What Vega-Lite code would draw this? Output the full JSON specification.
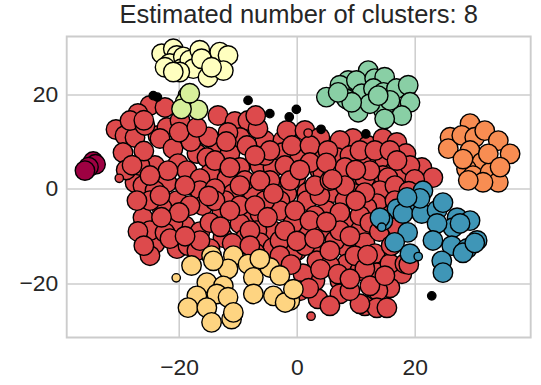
{
  "$schema": "https://vega.github.io/schema/vega-lite/v6.json",
  "width": 464,
  "height": 301,
  "autosize": {"type": "none"},
  "padding": {"left": 66.7, "top": 36.5, "right": 10.3, "bottom": 47.7},
  "background": "white",
  "title": {"text": "Estimated number of clusters: 8", "fontSize": 25.5, "fontWeight": "normal", "color": "#262626", "font": "Liberation Sans", "anchor": "middle", "frame": "group", "offset": 8},
  "config": {
    "view": {"stroke": "#cccccc", "strokeWidth": 1.9},
    "axis": {"domain": false, "ticks": false, "grid": true, "gridColor": "#cccccc", "gridWidth": 1.5, "gridOpacity": 1, "labelFontSize": 22.9, "labelColor": "#262626", "labelFont": "Liberation Sans", "title": null}
  },
  "data": {"values": [
    {"x": -34.6, "y": 5.78, "c": "0", "k": "core"},
    {"x": -34.2, "y": 5.2, "c": "0", "k": "core"},
    {"x": -35.4, "y": 4.6, "c": "0", "k": "core"},
    {"x": -36.0, "y": 3.87, "c": "0", "k": "core"},

    {"x": -24.96, "y": 17.63, "c": "1", "k": "core"},
    {"x": -27.0, "y": 15.94, "c": "1", "k": "core"},
    {"x": -22.41, "y": 17.21, "c": "1", "k": "core"},
    {"x": -30.73, "y": 12.55, "c": "1", "k": "core"},
    {"x": -29.2, "y": 11.28, "c": "1", "k": "core"},
    {"x": -27.5, "y": 10.86, "c": "1", "k": "core"},
    {"x": -23.6, "y": 11.28, "c": "1", "k": "core"},
    {"x": -22.07, "y": 12.97, "c": "1", "k": "core"},
    {"x": -19.86, "y": 14.44, "c": "1", "k": "core"},
    {"x": -23.26, "y": 10.65, "c": "1", "k": "core"},
    {"x": -13.41, "y": 15.51, "c": "1", "k": "core"},
    {"x": -10.53, "y": 14.24, "c": "1", "k": "core"},
    {"x": -8.32, "y": 14.44, "c": "1", "k": "core"},
    {"x": -9.68, "y": 10.86, "c": "1", "k": "core"},
    {"x": -5.43, "y": 10.22, "c": "1", "k": "core"},
    {"x": -2.38, "y": 10.22, "c": "1", "k": "core"},
    {"x": -1.7, "y": 12.34, "c": "1", "k": "core"},
    {"x": 1.36, "y": 12.34, "c": "1", "k": "core"},
    {"x": 3.9, "y": 10.86, "c": "1", "k": "core"},
    {"x": 6.96, "y": 8.74, "c": "1", "k": "core"},
    {"x": 9.51, "y": 10.65, "c": "1", "k": "core"},
    {"x": 12.05, "y": 9.16, "c": "1", "k": "core"},
    {"x": 14.6, "y": 10.65, "c": "1", "k": "core"},
    {"x": 16.98, "y": 9.8, "c": "1", "k": "core"},
    {"x": 7.3, "y": 10.22, "c": "1", "k": "core"},
    {"x": -29.54, "y": 7.68, "c": "1", "k": "core"},
    {"x": -24.11, "y": 4.93, "c": "1", "k": "core"},
    {"x": -21.05, "y": 8.53, "c": "1", "k": "core"},
    {"x": -20.2, "y": 5.35, "c": "1", "k": "core"},
    {"x": -16.98, "y": 7.47, "c": "1", "k": "core"},
    {"x": -13.41, "y": 8.74, "c": "1", "k": "core"},
    {"x": -11.38, "y": 7.47, "c": "1", "k": "core"},
    {"x": -15.28, "y": 6.62, "c": "1", "k": "core"},
    {"x": -8.49, "y": 9.16, "c": "1", "k": "core"},
    {"x": -9.68, "y": 4.51, "c": "1", "k": "core"},
    {"x": -6.28, "y": 4.93, "c": "1", "k": "core"},
    {"x": -4.07, "y": 4.51, "c": "1", "k": "core"},
    {"x": 2.72, "y": 7.68, "c": "1", "k": "core"},
    {"x": 6.79, "y": 6.62, "c": "1", "k": "core"},
    {"x": 11.88, "y": 5.99, "c": "1", "k": "core"},
    {"x": 14.09, "y": 6.41, "c": "1", "k": "core"},
    {"x": 18.51, "y": 7.47, "c": "1", "k": "core"},
    {"x": 14.94, "y": 5.99, "c": "1", "k": "core"},
    {"x": -0.17, "y": 2.39, "c": "1", "k": "core"},
    {"x": 3.9, "y": 3.87, "c": "1", "k": "core"},
    {"x": -2.38, "y": 7.68, "c": "1", "k": "core"},
    {"x": -5.43, "y": 7.05, "c": "1", "k": "core"},
    {"x": 0.51, "y": 7.05, "c": "1", "k": "core"},
    {"x": 9.0, "y": 7.05, "c": "1", "k": "core"},
    {"x": 16.64, "y": 3.87, "c": "1", "k": "core"},
    {"x": -27.5, "y": 1.33, "c": "1", "k": "core"},
    {"x": -26.15, "y": 0.7, "c": "1", "k": "core"},
    {"x": -22.07, "y": 1.33, "c": "1", "k": "core"},
    {"x": -18.68, "y": 3.87, "c": "1", "k": "core"},
    {"x": -16.98, "y": 0.28, "c": "1", "k": "core"},
    {"x": -14.77, "y": 3.24, "c": "1", "k": "core"},
    {"x": -11.88, "y": 2.18, "c": "1", "k": "core"},
    {"x": -16.47, "y": 2.18, "c": "1", "k": "core"},
    {"x": 4.41, "y": 3.45, "c": "1", "k": "core"},
    {"x": 9.51, "y": 2.39, "c": "1", "k": "core"},
    {"x": 13.75, "y": 1.33, "c": "1", "k": "core"},
    {"x": 20.37, "y": 1.33, "c": "1", "k": "core"},
    {"x": 21.22, "y": 4.51, "c": "1", "k": "core"},
    {"x": 23.09, "y": 2.39, "c": "1", "k": "core"},
    {"x": 14.6, "y": 2.82, "c": "1", "k": "core"},
    {"x": 11.54, "y": 2.18, "c": "1", "k": "core"},
    {"x": 6.11, "y": -0.78, "c": "1", "k": "core"},
    {"x": 1.7, "y": -0.78, "c": "1", "k": "core"},
    {"x": -2.89, "y": -0.36, "c": "1", "k": "core"},
    {"x": -7.47, "y": -0.78, "c": "1", "k": "core"},
    {"x": -10.87, "y": -0.99, "c": "1", "k": "core"},
    {"x": -16.47, "y": -0.36, "c": "1", "k": "core"},
    {"x": -20.37, "y": -2.48, "c": "1", "k": "core"},
    {"x": -1.7, "y": -0.99, "c": "1", "k": "core"},
    {"x": 18.0, "y": 3.45, "c": "1", "k": "core"},
    {"x": 15.45, "y": 2.39, "c": "1", "k": "core"},
    {"x": 14.09, "y": -0.36, "c": "1", "k": "core"},
    {"x": -4.58, "y": 1.76, "c": "1", "k": "core"},
    {"x": -8.83, "y": 1.76, "c": "1", "k": "core"},
    {"x": -24.11, "y": -0.36, "c": "1", "k": "core"},
    {"x": 13.58, "y": -3.11, "c": "1", "k": "core"},
    {"x": 1.7, "y": -2.48, "c": "1", "k": "core"},
    {"x": 5.09, "y": -4.59, "c": "1", "k": "core"},
    {"x": 9.85, "y": -0.99, "c": "1", "k": "core"},
    {"x": 11.88, "y": -3.96, "c": "1", "k": "core"},
    {"x": -2.89, "y": -2.48, "c": "1", "k": "core"},
    {"x": -8.49, "y": -6.71, "c": "1", "k": "core"},
    {"x": -4.07, "y": -8.82, "c": "1", "k": "core"},
    {"x": 1.02, "y": -9.25, "c": "1", "k": "core"},
    {"x": 4.41, "y": -8.82, "c": "1", "k": "core"},
    {"x": 9.0, "y": -7.13, "c": "1", "k": "core"},
    {"x": -26.15, "y": -6.07, "c": "1", "k": "core"},
    {"x": -22.92, "y": -3.96, "c": "1", "k": "core"},
    {"x": -19.02, "y": -7.77, "c": "1", "k": "core"},
    {"x": -16.47, "y": -9.04, "c": "1", "k": "core"},
    {"x": -21.05, "y": -7.34, "c": "1", "k": "core"},
    {"x": -12.73, "y": -5.02, "c": "1", "k": "core"},
    {"x": -9.68, "y": -7.34, "c": "1", "k": "core"},
    {"x": -15.96, "y": -3.53, "c": "1", "k": "core"},
    {"x": -6.28, "y": -5.23, "c": "1", "k": "core"},
    {"x": -2.89, "y": -4.59, "c": "1", "k": "core"},
    {"x": -0.68, "y": -7.34, "c": "1", "k": "core"},
    {"x": -6.79, "y": -8.82, "c": "1", "k": "core"},
    {"x": 8.15, "y": -2.48, "c": "1", "k": "core"},
    {"x": 3.9, "y": -1.42, "c": "1", "k": "core"},
    {"x": -5.43, "y": -2.48, "c": "1", "k": "core"},
    {"x": -12.22, "y": -2.48, "c": "1", "k": "core"},
    {"x": -24.96, "y": -2.48, "c": "1", "k": "core"},
    {"x": 10.7, "y": -8.82, "c": "1", "k": "core"},
    {"x": 0.0, "y": -13.06, "c": "1", "k": "core"},
    {"x": 3.9, "y": -14.12, "c": "1", "k": "core"},
    {"x": 8.49, "y": -12.42, "c": "1", "k": "core"},
    {"x": 11.54, "y": -11.36, "c": "1", "k": "core"},
    {"x": 14.43, "y": -14.54, "c": "1", "k": "core"},
    {"x": -6.28, "y": -11.36, "c": "1", "k": "core"},
    {"x": -0.68, "y": -13.48, "c": "1", "k": "core"},
    {"x": 3.4, "y": -15.17, "c": "1", "k": "core"},
    {"x": 8.49, "y": -15.81, "c": "1", "k": "core"},
    {"x": 13.24, "y": -13.69, "c": "1", "k": "core"},
    {"x": -24.11, "y": -11.58, "c": "1", "k": "core"},
    {"x": -24.96, "y": -14.12, "c": "1", "k": "core"},
    {"x": -20.37, "y": -12.63, "c": "1", "k": "core"},
    {"x": -18.51, "y": -12.0, "c": "1", "k": "core"},
    {"x": -12.56, "y": -10.31, "c": "1", "k": "core"},
    {"x": -14.77, "y": -12.63, "c": "1", "k": "core"},
    {"x": -16.98, "y": -13.06, "c": "1", "k": "core"},
    {"x": -8.83, "y": -10.52, "c": "1", "k": "core"},
    {"x": -4.07, "y": -12.42, "c": "1", "k": "core"},
    {"x": 6.45, "y": -10.94, "c": "1", "k": "core"},
    {"x": -2.89, "y": -10.94, "c": "1", "k": "core"},
    {"x": 13.58, "y": -17.71, "c": "1", "k": "core"},
    {"x": 17.83, "y": -17.93, "c": "1", "k": "core"},
    {"x": 15.79, "y": -20.89, "c": "1", "k": "core"},
    {"x": 13.75, "y": -21.52, "c": "1", "k": "core"},
    {"x": 11.54, "y": -24.7, "c": "1", "k": "core"},
    {"x": 13.58, "y": -25.12, "c": "1", "k": "core"},
    {"x": 15.28, "y": -25.12, "c": "1", "k": "core"},
    {"x": 10.7, "y": -24.28, "c": "1", "k": "core"},
    {"x": 7.3, "y": -19.41, "c": "1", "k": "core"},
    {"x": 7.3, "y": -22.16, "c": "1", "k": "core"},
    {"x": 3.57, "y": -23.22, "c": "1", "k": "core"},
    {"x": 3.06, "y": -19.41, "c": "1", "k": "core"},
    {"x": 1.02, "y": -17.93, "c": "1", "k": "core"},
    {"x": 15.79, "y": -15.81, "c": "1", "k": "core"},
    {"x": 5.6, "y": -16.23, "c": "1", "k": "core"},
    {"x": 10.7, "y": -17.29, "c": "1", "k": "core"},
    {"x": 18.34, "y": -15.81, "c": "1", "k": "core"},
    {"x": -11.71, "y": 11.92, "c": "1", "k": "core"},
    {"x": -6.62, "y": 12.76, "c": "1", "k": "core"},
    {"x": -4.58, "y": 8.11, "c": "1", "k": "core"},
    {"x": -0.85, "y": 9.16, "c": "1", "k": "core"},
    {"x": 2.21, "y": 9.16, "c": "1", "k": "core"},
    {"x": 5.26, "y": 8.11, "c": "1", "k": "core"},
    {"x": 10.7, "y": 8.11, "c": "1", "k": "core"},
    {"x": 13.24, "y": 8.11, "c": "1", "k": "core"},
    {"x": 15.79, "y": 8.11, "c": "1", "k": "core"},
    {"x": -26.66, "y": 4.93, "c": "1", "k": "core"},
    {"x": -21.9, "y": 3.87, "c": "1", "k": "core"},
    {"x": -13.92, "y": 5.99, "c": "1", "k": "core"},
    {"x": -7.13, "y": 7.05, "c": "1", "k": "core"},
    {"x": -2.04, "y": 4.93, "c": "1", "k": "core"},
    {"x": 2.21, "y": 5.57, "c": "1", "k": "core"},
    {"x": 8.15, "y": 4.51, "c": "1", "k": "core"},
    {"x": 12.39, "y": 3.87, "c": "1", "k": "core"},
    {"x": 19.19, "y": 4.93, "c": "1", "k": "core"},
    {"x": -24.96, "y": 2.82, "c": "1", "k": "core"},
    {"x": -19.02, "y": 0.7, "c": "1", "k": "core"},
    {"x": -13.92, "y": 0.06, "c": "1", "k": "core"},
    {"x": -9.68, "y": 0.7, "c": "1", "k": "core"},
    {"x": -6.28, "y": 1.76, "c": "1", "k": "core"},
    {"x": 3.06, "y": 0.7, "c": "1", "k": "core"},
    {"x": 8.15, "y": 0.7, "c": "1", "k": "core"},
    {"x": 11.54, "y": -0.78, "c": "1", "k": "core"},
    {"x": 16.64, "y": 0.7, "c": "1", "k": "core"},
    {"x": -23.26, "y": -1.42, "c": "1", "k": "core"},
    {"x": -18.17, "y": -3.53, "c": "1", "k": "core"},
    {"x": -13.92, "y": -2.48, "c": "1", "k": "core"},
    {"x": -9.68, "y": -3.53, "c": "1", "k": "core"},
    {"x": -7.13, "y": -3.53, "c": "1", "k": "core"},
    {"x": -0.34, "y": -4.59, "c": "1", "k": "core"},
    {"x": 3.06, "y": -5.65, "c": "1", "k": "core"},
    {"x": 7.3, "y": -5.02, "c": "1", "k": "core"},
    {"x": 10.7, "y": -5.65, "c": "1", "k": "core"},
    {"x": -24.96, "y": -8.82, "c": "1", "k": "core"},
    {"x": -22.41, "y": -9.25, "c": "1", "k": "core"},
    {"x": -14.77, "y": -7.13, "c": "1", "k": "core"},
    {"x": -11.38, "y": -4.59, "c": "1", "k": "core"},
    {"x": -7.98, "y": -8.82, "c": "1", "k": "core"},
    {"x": -2.04, "y": -8.82, "c": "1", "k": "core"},
    {"x": 2.21, "y": -6.71, "c": "1", "k": "core"},
    {"x": 7.3, "y": -8.82, "c": "1", "k": "core"},
    {"x": 12.39, "y": -7.13, "c": "1", "k": "core"},
    {"x": -21.56, "y": -10.52, "c": "1", "k": "core"},
    {"x": -16.47, "y": -10.94, "c": "1", "k": "core"},
    {"x": -10.53, "y": -12.63, "c": "1", "k": "core"},
    {"x": -7.13, "y": -13.48, "c": "1", "k": "core"},
    {"x": -2.89, "y": -14.12, "c": "1", "k": "core"},
    {"x": 1.36, "y": -12.0, "c": "1", "k": "core"},
    {"x": 5.6, "y": -13.06, "c": "1", "k": "core"},
    {"x": 9.85, "y": -14.12, "c": "1", "k": "core"},
    {"x": 11.54, "y": -16.87, "c": "1", "k": "core"},
    {"x": 0.51, "y": -21.52, "c": "1", "k": "core"},
    {"x": 5.6, "y": -24.7, "c": "1", "k": "core"},
    {"x": 9.0, "y": -21.52, "c": "1", "k": "core"},
    {"x": 12.39, "y": -20.47, "c": "1", "k": "core"},
    {"x": 14.94, "y": -18.35, "c": "1", "k": "core"},
    {"x": 16.64, "y": -2.48, "c": "1", "k": "core"},
    {"x": 15.79, "y": -5.65, "c": "1", "k": "core"},
    {"x": -28.35, "y": 14.44, "c": "1", "k": "core"},
    {"x": -25.81, "y": 13.4, "c": "1", "k": "core"},
    {"x": -11.38, "y": 4.51, "c": "1", "k": "core"},
    {"x": -1.19, "y": 1.76, "c": "1", "k": "core"},
    {"x": 5.6, "y": 1.76, "c": "1", "k": "core"},
    {"x": -27.17, "y": -2.48, "c": "1", "k": "core"},
    {"x": -26.0, "y": 8.0, "c": "1", "k": "core"},
    {"x": -18.0, "y": 10.0, "c": "1", "k": "core"},
    {"x": -15.0, "y": 11.0, "c": "1", "k": "core"},
    {"x": -7.0, "y": 15.5, "c": "1", "k": "core"},
    {"x": -12.0, "y": 10.0, "c": "1", "k": "core"},
    {"x": 0.5, "y": 4.0, "c": "1", "k": "core"},
    {"x": 5.0, "y": 5.5, "c": "1", "k": "core"},
    {"x": 10.0, "y": 4.0, "c": "1", "k": "core"},
    {"x": 17.0, "y": 6.0, "c": "1", "k": "core"},
    {"x": 20.0, "y": 2.0, "c": "1", "k": "core"},
    {"x": -29.0, "y": 4.0, "c": "1", "k": "core"},
    {"x": -20.0, "y": -5.0, "c": "1", "k": "core"},
    {"x": -13.0, "y": -8.0, "c": "1", "k": "core"},
    {"x": -5.0, "y": -6.0, "c": "1", "k": "core"},
    {"x": 0.0, "y": -11.0, "c": "1", "k": "core"},
    {"x": 5.0, "y": -7.0, "c": "1", "k": "core"},
    {"x": 9.0, "y": -10.0, "c": "1", "k": "core"},
    {"x": 14.0, "y": -9.0, "c": "1", "k": "core"},
    {"x": -23.0, "y": -6.0, "c": "1", "k": "core"},
    {"x": -19.0, "y": -10.0, "c": "1", "k": "core"},
    {"x": -11.0, "y": -11.5, "c": "1", "k": "core"},
    {"x": 4.0, "y": -17.0, "c": "1", "k": "core"},
    {"x": 7.0, "y": -18.0, "c": "1", "k": "core"},
    {"x": 2.0, "y": -21.0, "c": "1", "k": "core"},
    {"x": 9.0, "y": -19.0, "c": "1", "k": "core"},
    {"x": 12.0, "y": -14.0, "c": "1", "k": "core"},
    {"x": 16.0, "y": -12.0, "c": "1", "k": "core"},
    {"x": 17.0, "y": -8.0, "c": "1", "k": "core"},
    {"x": 19.0, "y": -16.0, "c": "1", "k": "core"},
    {"x": -27.0, "y": -9.0, "c": "1", "k": "core"},
    {"x": -26.0, "y": -12.0, "c": "1", "k": "core"},
    {"x": -1.0, "y": -16.0, "c": "1", "k": "core"},
    {"x": 3.0, "y": -10.5, "c": "1", "k": "core"},
    {"x": -8.0, "y": -12.0, "c": "1", "k": "core"},
    {"x": -15.0, "y": -1.5, "c": "1", "k": "core"},
    {"x": -4.0, "y": -1.0, "c": "1", "k": "core"},
    {"x": 6.0, "y": 2.0, "c": "1", "k": "core"},
    {"x": 10.0, "y": -2.5, "c": "1", "k": "core"},
    {"x": 19.0, "y": -0.5, "c": "1", "k": "core"},
    {"x": -20.0, "y": 12.0, "c": "1", "k": "core"},
    {"x": -17.0, "y": 13.0, "c": "1", "k": "core"},
    {"x": -26.0, "y": 14.5, "c": "1", "k": "core"},
    {"x": -28.0, "y": 5.0, "c": "1", "k": "core"},
    {"x": -30.17, "y": 2.24, "c": "1", "k": "edge"},
    {"x": 1.9, "y": 11.8, "c": "1", "k": "edge"},
    {"x": 2.4, "y": -26.9, "c": "1", "k": "edge"},

    {"x": 29.4, "y": 13.8, "c": "2", "k": "core"},
    {"x": 26.0, "y": 10.9, "c": "2", "k": "core"},
    {"x": 25.7, "y": 8.5, "c": "2", "k": "core"},
    {"x": 28.0, "y": 11.3, "c": "2", "k": "core"},
    {"x": 30.2, "y": 10.9, "c": "2", "k": "core"},
    {"x": 31.9, "y": 12.3, "c": "2", "k": "core"},
    {"x": 34.2, "y": 10.2, "c": "2", "k": "core"},
    {"x": 36.2, "y": 7.4, "c": "2", "k": "core"},
    {"x": 29.4, "y": 8.1, "c": "2", "k": "core"},
    {"x": 31.4, "y": 5.6, "c": "2", "k": "core"},
    {"x": 28.8, "y": 4.2, "c": "2", "k": "core"},
    {"x": 29.9, "y": 2.8, "c": "2", "k": "core"},
    {"x": 32.8, "y": 3.5, "c": "2", "k": "core"},
    {"x": 34.2, "y": 1.4, "c": "2", "k": "core"},
    {"x": 31.6, "y": 1.4, "c": "2", "k": "core"},
    {"x": 29.1, "y": 1.8, "c": "2", "k": "core"},
    {"x": 32.5, "y": 7.4, "c": "2", "k": "core"},
    {"x": 34.5, "y": 4.6, "c": "2", "k": "core"},
    {"x": 28.2, "y": 6.3, "c": "2", "k": "core"},

    {"x": -17.9, "y": -16.2, "c": "3", "k": "core"},
    {"x": -14.5, "y": -14.1, "c": "3", "k": "core"},
    {"x": -10.8, "y": -14.1, "c": "3", "k": "core"},
    {"x": -11.7, "y": -16.9, "c": "3", "k": "core"},
    {"x": -8.3, "y": -15.9, "c": "3", "k": "core"},
    {"x": -7.4, "y": -18.7, "c": "3", "k": "core"},
    {"x": -4.6, "y": -16.6, "c": "3", "k": "core"},
    {"x": -2.9, "y": -18.3, "c": "3", "k": "core"},
    {"x": -15.3, "y": -19.8, "c": "3", "k": "core"},
    {"x": -12.5, "y": -20.5, "c": "3", "k": "core"},
    {"x": -13.6, "y": -22.2, "c": "3", "k": "core"},
    {"x": -11.7, "y": -22.9, "c": "3", "k": "core"},
    {"x": -17.0, "y": -22.6, "c": "3", "k": "core"},
    {"x": -18.5, "y": -25.1, "c": "3", "k": "core"},
    {"x": -15.3, "y": -25.1, "c": "3", "k": "core"},
    {"x": -14.5, "y": -28.2, "c": "3", "k": "core"},
    {"x": -11.1, "y": -27.5, "c": "3", "k": "core"},
    {"x": -10.8, "y": -26.1, "c": "3", "k": "core"},
    {"x": -7.4, "y": -22.2, "c": "3", "k": "core"},
    {"x": -4.0, "y": -22.6, "c": "3", "k": "core"},
    {"x": -1.2, "y": -23.6, "c": "3", "k": "core"},
    {"x": -14.2, "y": -15.2, "c": "3", "k": "core"},
    {"x": -6.3, "y": -14.8, "c": "3", "k": "core"},
    {"x": -2.0, "y": -24.0, "c": "3", "k": "core"},
    {"x": -0.6, "y": -21.2, "c": "3", "k": "core"},
    {"x": -20.5, "y": -18.8, "c": "3", "k": "edge"},

    {"x": -22.97, "y": 28.57, "c": "4", "k": "core"},
    {"x": -21.0, "y": 29.6, "c": "4", "k": "core"},
    {"x": -20.4, "y": 28.2, "c": "4", "k": "core"},
    {"x": -21.6, "y": 26.5, "c": "4", "k": "core"},
    {"x": -22.4, "y": 25.7, "c": "4", "k": "core"},
    {"x": -19.3, "y": 27.9, "c": "4", "k": "core"},
    {"x": -19.6, "y": 25.4, "c": "4", "k": "core"},
    {"x": -18.2, "y": 27.2, "c": "4", "k": "core"},
    {"x": -17.6, "y": 25.4, "c": "4", "k": "core"},
    {"x": -16.5, "y": 29.3, "c": "4", "k": "core"},
    {"x": -16.2, "y": 27.5, "c": "4", "k": "core"},
    {"x": -15.1, "y": 23.6, "c": "4", "k": "core"},
    {"x": -13.1, "y": 28.9, "c": "4", "k": "core"},
    {"x": -11.7, "y": 28.2, "c": "4", "k": "core"},
    {"x": -12.5, "y": 25.0, "c": "4", "k": "core"},
    {"x": -19.9, "y": 24.7, "c": "4", "k": "core"},
    {"x": -21.0, "y": 24.7, "c": "4", "k": "core"},
    {"x": -14.5, "y": 25.7, "c": "4", "k": "core"},

    {"x": -18.5, "y": 19.7, "c": "5", "k": "core"},
    {"x": -19.0, "y": 18.3, "c": "5", "k": "core"},
    {"x": -16.8, "y": 16.7, "c": "5", "k": "core"},
    {"x": -19.6, "y": 16.9, "c": "5", "k": "core"},
    {"x": -18.2, "y": 20.2, "c": "5", "k": "core"},

    {"x": 12.1, "y": 25.0, "c": "6", "k": "core"},
    {"x": 8.7, "y": 22.9, "c": "6", "k": "core"},
    {"x": 7.3, "y": 21.9, "c": "6", "k": "core"},
    {"x": 5.0, "y": 19.4, "c": "6", "k": "core"},
    {"x": 10.1, "y": 22.9, "c": "6", "k": "core"},
    {"x": 13.2, "y": 23.3, "c": "6", "k": "core"},
    {"x": 14.9, "y": 23.6, "c": "6", "k": "core"},
    {"x": 11.0, "y": 20.1, "c": "6", "k": "core"},
    {"x": 8.4, "y": 19.0, "c": "6", "k": "core"},
    {"x": 10.4, "y": 16.2, "c": "6", "k": "core"},
    {"x": 13.0, "y": 21.2, "c": "6", "k": "core"},
    {"x": 14.7, "y": 20.4, "c": "6", "k": "core"},
    {"x": 16.9, "y": 21.2, "c": "6", "k": "core"},
    {"x": 18.9, "y": 21.9, "c": "6", "k": "core"},
    {"x": 19.2, "y": 18.3, "c": "6", "k": "core"},
    {"x": 14.7, "y": 16.6, "c": "6", "k": "core"},
    {"x": 17.8, "y": 15.5, "c": "6", "k": "core"},
    {"x": 14.9, "y": 14.8, "c": "6", "k": "core"},
    {"x": 12.4, "y": 18.0, "c": "6", "k": "core"},
    {"x": 9.3, "y": 18.3, "c": "6", "k": "core"},
    {"x": 15.8, "y": 18.7, "c": "6", "k": "core"},
    {"x": 7.0, "y": 20.4, "c": "6", "k": "core"},
    {"x": 13.8, "y": 19.7, "c": "6", "k": "core"},

    {"x": 21.4, "y": -0.4, "c": "7", "k": "core"},
    {"x": 19.2, "y": -2.5, "c": "7", "k": "core"},
    {"x": 17.0, "y": -4.2, "c": "7", "k": "core"},
    {"x": 14.6, "y": -6.7, "c": "7", "k": "core"},
    {"x": 14.1, "y": -6.1, "c": "7", "k": "core"},
    {"x": 18.0, "y": -5.2, "c": "7", "k": "core"},
    {"x": 21.2, "y": -5.2, "c": "7", "k": "core"},
    {"x": 23.8, "y": -4.5, "c": "7", "k": "core"},
    {"x": 24.8, "y": -2.9, "c": "7", "k": "core"},
    {"x": 27.2, "y": -6.1, "c": "7", "k": "core"},
    {"x": 29.4, "y": -6.7, "c": "7", "k": "core"},
    {"x": 30.6, "y": -10.9, "c": "7", "k": "core"},
    {"x": 26.5, "y": -8.2, "c": "7", "k": "core"},
    {"x": 23.8, "y": -7.3, "c": "7", "k": "core"},
    {"x": 18.8, "y": -9.2, "c": "7", "k": "core"},
    {"x": 16.6, "y": -11.3, "c": "7", "k": "core"},
    {"x": 23.1, "y": -10.9, "c": "7", "k": "core"},
    {"x": 26.3, "y": -12.0, "c": "7", "k": "core"},
    {"x": 28.9, "y": -12.6, "c": "7", "k": "core"},
    {"x": 24.6, "y": -15.2, "c": "7", "k": "core"},
    {"x": 24.8, "y": -17.7, "c": "7", "k": "core"},
    {"x": 19.2, "y": -13.7, "c": "7", "k": "core"},
    {"x": 20.9, "y": -2.0, "c": "7", "k": "core"},
    {"x": 18.7, "y": -1.8, "c": "7", "k": "core"},
    {"x": 27.7, "y": -7.3, "c": "7", "k": "core"},
    {"x": 28.2, "y": -13.5, "c": "7", "k": "core"},
    {"x": 30.2, "y": -11.4, "c": "7", "k": "core"},
    {"x": 14.4, "y": -8.1, "c": "7", "k": "edge"},
    {"x": 20.6, "y": -14.3, "c": "7", "k": "edge"},

    {"x": -24.4, "y": 19.7, "c": "-1", "k": "edge"},
    {"x": -23.7, "y": 19.4, "c": "-1", "k": "edge"},
    {"x": -8.3, "y": 18.7, "c": "-1", "k": "edge"},
    {"x": -4.6, "y": 15.9, "c": "-1", "k": "edge"},
    {"x": -1.3, "y": 15.2, "c": "-1", "k": "edge"},
    {"x": -0.1, "y": 16.8, "c": "-1", "k": "edge"},
    {"x": 4.1, "y": 12.6, "c": "-1", "k": "edge"},
    {"x": 11.7, "y": 11.6, "c": "-1", "k": "edge"},
    {"x": 22.9, "y": -22.6, "c": "-1", "k": "edge"}
  ]},
  "mark": {"type": "point", "shape": "circle", "filled": true, "opacity": 1, "stroke": "black", "strokeWidth": 1.39, "strokeOpacity": 1},
  "encoding": {
    "x": {"field": "x", "type": "quantitative", "scale": {"domain": [-39.1, 39.7], "nice": false, "zero": false}, "axis": {"values": [-20, 0, 20], "labelPadding": 19}},
    "y": {"field": "y", "type": "quantitative", "scale": {"domain": [-31.4, 32.2], "nice": false, "zero": false}, "axis": {"values": [-20, 0, 20], "labelPadding": 9}},
    "color": {"field": "c", "type": "nominal", "legend": null, "scale": {"domain": ["0", "1", "2", "3", "4", "5", "6", "7", "-1"], "range": ["#9e0142", "#dd4a4c", "#f88d52", "#fed481", "#ffffbf", "#d7ef9b", "#89cfa5", "#3f96b7", "#000000"]}},
    "size": {"field": "k", "type": "nominal", "legend": null, "scale": {"domain": ["core", "edge"], "range": [380, 70]}}
  }
}
